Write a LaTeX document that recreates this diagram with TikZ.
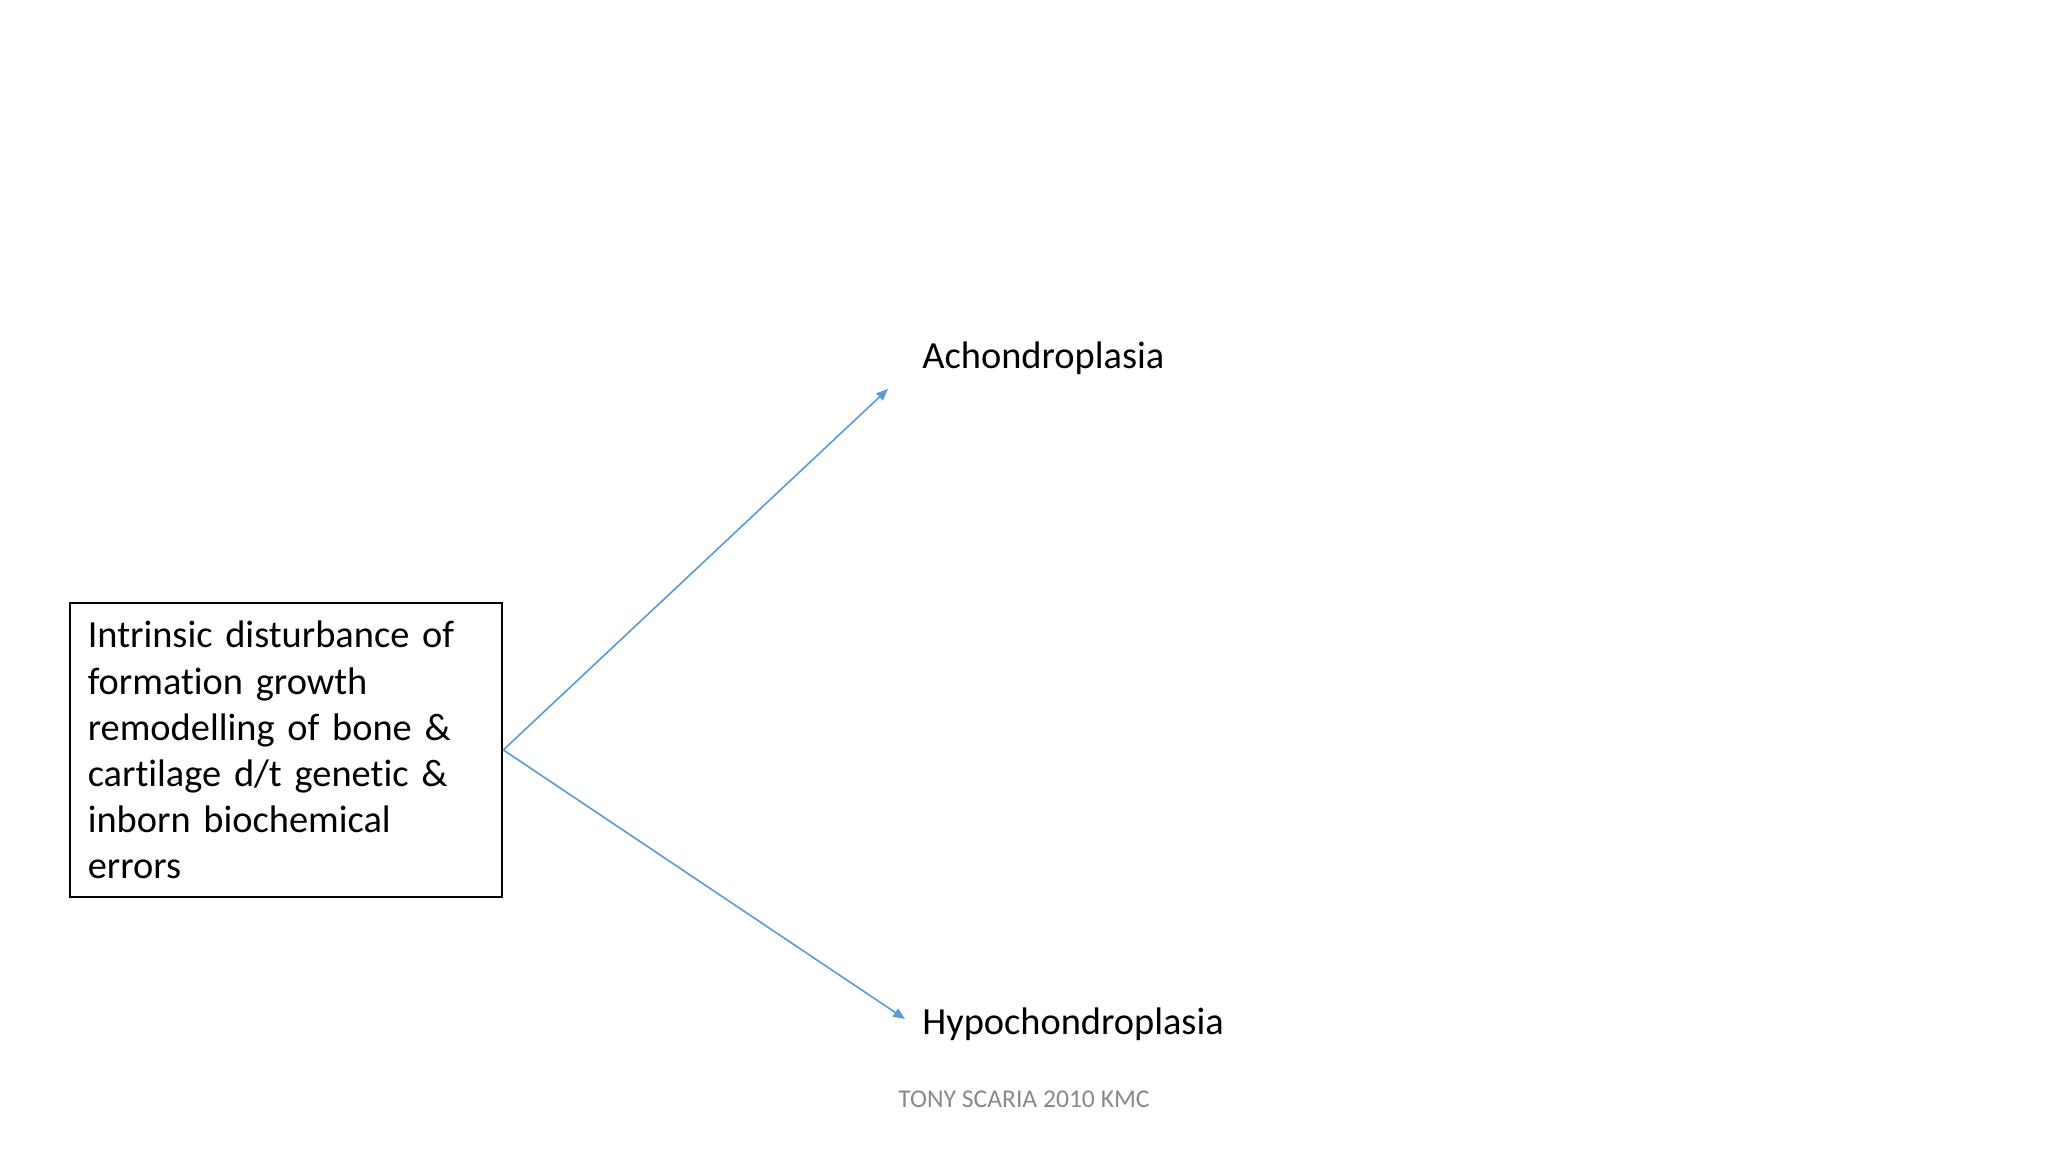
\documentclass[tikz,border=0pt]{standalone}
\usepackage{fontspec}
\setmainfont{Carlito}[Ligatures=NoCommon]
\usepackage{tikz}
\usetikzlibrary{arrows.meta,positioning}
\definecolor{arrowblue}{HTML}{5B9BD5}
\definecolor{footgray}{HTML}{898989}
\tikzstyle{line} = [line width=0.75pt, draw=arrowblue, -{Triangle[length=5.5pt,width=4.5pt]}]
\tikzstyle{block} = [draw, rectangle, line width=0.9pt, align=left, text width=186pt, inner xsep=8pt, minimum width=202.7pt, minimum height=137.8pt, anchor=north west, font=\fontsize{18}{21.6}\selectfont]
\tikzstyle{label} = [anchor=west, inner sep=0pt, font=\fontsize{18}{21.6}\selectfont]
\tikzstyle{foot} = [inner sep=0pt, text=footgray, font=\fontsize{12}{14}\selectfont]

\begin{document}
\begin{tikzpicture}[x=0.46875pt, y=-0.46875pt]
        \useasboundingbox (0,0) rectangle (2048,1152);
        \node[block](Disturbance) at (69,602){Intrinsic disturbance of\\format\kern0pt ion growth\\remodelling of bone \&\\cartilage d/t genetic \&\\inborn biochemical\\errors};
        \node[label](Achondroplasia) at (922,358){Achondroplasia};
        \node[label](Hypochondroplasia) at (922,1024){Hypochondroplasia};
        \node[foot](Footer) at (1024,1099){TONY SCARIA 2010 KMC};
        \coordinate (AchTip) at (888,389);
        \coordinate (HypoTip) at (905,1019);
        \draw[line](Disturbance.east) -- (AchTip);
        \draw[line](Disturbance.east) -- (HypoTip);
    \end{tikzpicture}
\end{document}
